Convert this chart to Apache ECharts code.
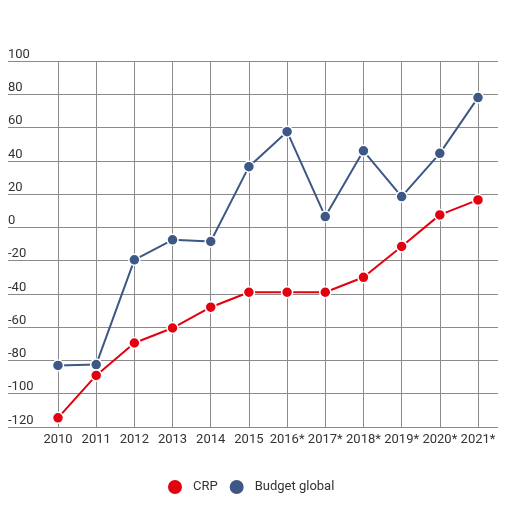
<!DOCTYPE html>
<html>
<head>
<meta charset="utf-8">
<script src="https://cdn.jsdelivr.net/npm/echarts@6/dist/echarts.min.js"></script>
<style>
  html, body { margin: 0; padding: 0; background: #fff; }
  #chart { width: 512px; height: 512px; }
</style>
</head>
<body>
<div id="chart"></div>
<script>
var years = ['2010', '2011', '2012', '2013', '2014', '2015', '2016*', '2017*', '2018*', '2019*', '2020*', '2021*'];
var crp = [-114.5, -89, -69.5, -60.5, -48, -39, -39, -39, -30, -11.5, 7.5, 16.5];
var budget = [-83, -82.5, -19.5, -7.5, -8.5, 36.5, 57.5, 6.5, 46, 18.5, 44.5, 78];
var yMin = -120, yMax = 100, yStep = 20;

var gridColor = '#8a8a8a';
var textColor = '#333';
var font = 'Roboto';

var option = {
    animation: false,
    textStyle: { fontFamily: font },
    legend: {
        left: 161,
        top: 473,
        itemWidth: 16,
        itemHeight: 16,
        itemGap: 10,
        icon: 'circle',
        textStyle: { color: textColor, fontSize: 13, fontFamily: font, padding: [0, 0, 0, 5] },
        data: ['CRP', 'Budget global']
    },
    grid: [
        // full width grid: horizontal lines and y labels
        { left: 8, right: 14, top: 61, bottom: 85 },
        // data grid: categories
        { left: 58, right: 34, top: 61, bottom: 85 }
    ],
    xAxis: [
        { gridIndex: 0, type: 'value', show: false, min: 0, max: 1 },
        {
            gridIndex: 1,
            type: 'category',
            data: years,
            boundaryGap: false,
            axisLine: { show: false },
            axisTick: { show: false },
            axisLabel: { color: textColor, fontSize: 13, margin: 6, interval: 0, fontFamily: font },
            splitLine: { show: true, lineStyle: { color: gridColor, width: 1 } }
        }
    ],
    yAxis: [
        {
            gridIndex: 0,
            type: 'value',
            min: yMin,
            max: yMax,
            interval: yStep,
            axisLine: { show: false },
            axisTick: { show: false },
            axisLabel: {
                inside: true,
                margin: 0,
                verticalAlign: 'bottom',
                padding: [0, 0, 0, 0],
                color: textColor,
                fontSize: 13,
                fontFamily: font
            },
            splitLine: { show: true, lineStyle: { color: gridColor, width: 1 } }
        },
        { gridIndex: 1, type: 'value', min: yMin, max: yMax, interval: yStep, show: false, splitLine: { show: false } }
    ],
    series: [
        {
            name: 'CRP',
            type: 'line',
            xAxisIndex: 1,
            yAxisIndex: 1,
            data: crp,
            symbol: 'circle',
            symbolSize: 11,
            z: 3,
            lineStyle: { color: '#e3000f', width: 2 },
            itemStyle: { color: '#e3000f', borderColor: '#fff', borderWidth: 1.5 }
        },
        {
            name: 'Budget global',
            type: 'line',
            xAxisIndex: 1,
            yAxisIndex: 1,
            data: budget,
            symbol: 'circle',
            symbolSize: 11,
            z: 2,
            lineStyle: { color: '#3d5787', width: 2 },
            itemStyle: { color: '#3d5787', borderColor: '#fff', borderWidth: 1.5 }
        }
    ]
};

var myChart = echarts.init(document.getElementById('chart'));
myChart.setOption(option);
</script>
</body>
</html>
